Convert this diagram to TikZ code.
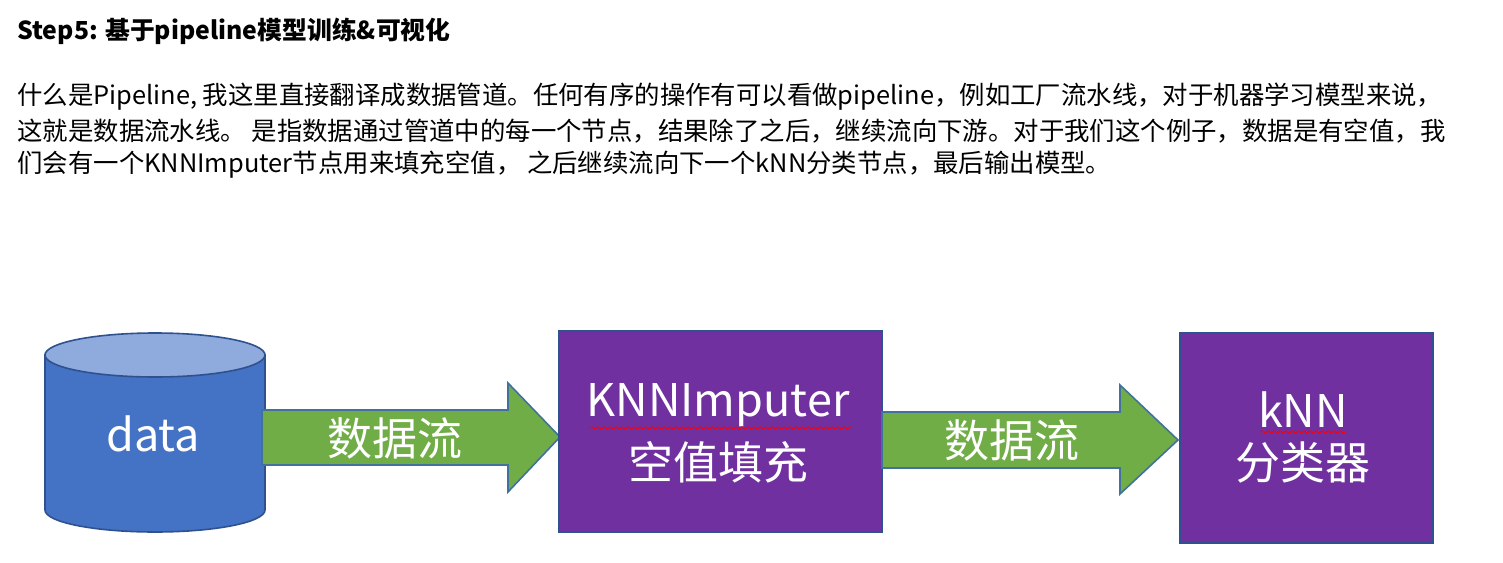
\documentclass[tikz,border=0pt]{standalone}
\usepackage{fontspec}
\setmainfont{Noto Sans CJK SC}
\usetikzlibrary{decorations.pathmorphing}
\definecolor{cylblue}{HTML}{4472C4}
\definecolor{cyltop}{HTML}{8FAADC}
\definecolor{edgeblue}{HTML}{2F528F}
\definecolor{agreen}{HTML}{70AD47}
\definecolor{agreenedge}{HTML}{41719C}
\definecolor{boxpurple}{HTML}{7030A0}
\tikzset{
 para/.style={anchor=west,inner sep=0,font=\fontsize{12.7}{14}\selectfont},
 wtext/.style={text=white,inner sep=0,font=\fontsize{22.5}{26}\selectfont},
 arr/.style={fill=agreen,draw=agreenedge,line width=0.8pt},
 pbox/.style={fill=boxpurple,draw=edgeblue,line width=0.8pt},
 squig/.style={draw=red,line width=0.5pt,decorate,decoration={snake,amplitude=0.6pt,segment length=3pt}}
}
\begin{document}
\begin{tikzpicture}[x=0.5pt,y=-0.5pt]
\useasboundingbox (0,0) rectangle (1503,562);
\node[para,font=\bfseries\fontsize{12.4}{14}\selectfont] (title) at (17,31) {Step5: 基于pipeline模型训练\&可视化};
\node[para] (l1) at (17,97) {什么是Pipeline, 我这里直接翻译成数据管道。任何有序的操作有可以看做pipeline，例如工厂流水线，对于机器学习模型来说，};
\node[para] (l2) at (17,131) {这就是数据流水线。 是指数据通过管道中的每一个节点，结果除了之后，继续流向下游。对于我们这个例子，数据是有空值，我};
\node[para] (l3) at (17,165) {们会有一个KNNImputer节点用来填充空值， 之后继续流向下一个kNN分类节点，最后输出模型。};
% cylinder
\path[fill=cylblue,draw=edgeblue,line width=0.8pt] (45,355) -- (45,510) arc[start angle=180,end angle=0,x radius=110,y radius=22] -- (265,355) -- cycle;
\path[fill=cyltop,draw=edgeblue,line width=0.8pt] (155,355) ellipse[x radius=110,y radius=22];
\node[wtext] (data) at (153,434) {data};
% arrows
\path[arr] (262,410) -- (508,410) -- (508,383) -- (560,437) -- (508,492) -- (508,465) -- (262,465) -- cycle;
\node[wtext] (f1) at (395,438) {数据流};
\path[pbox] (559,331) rectangle (882,532);
\node[wtext] (k1) at (718,405) {KNNImputer};
\draw[squig] (590,428) -- (852,428);
\node[wtext] (k1b) at (718,462) {空值填充};
\path[arr] (882,412) -- (1120,412) -- (1120,385) -- (1178,440) -- (1120,494) -- (1120,468) -- (882,468) -- cycle;
\node[wtext] (f2) at (1012,440) {数据流};
\path[pbox] (1180,333) rectangle (1433,543);
\node[wtext] (k2) at (1303,410) {kNN};
\draw[squig] (1260,432) -- (1346,432);
\node[wtext] (k2b) at (1303,462) {分类器};
\end{tikzpicture}
\end{document}
